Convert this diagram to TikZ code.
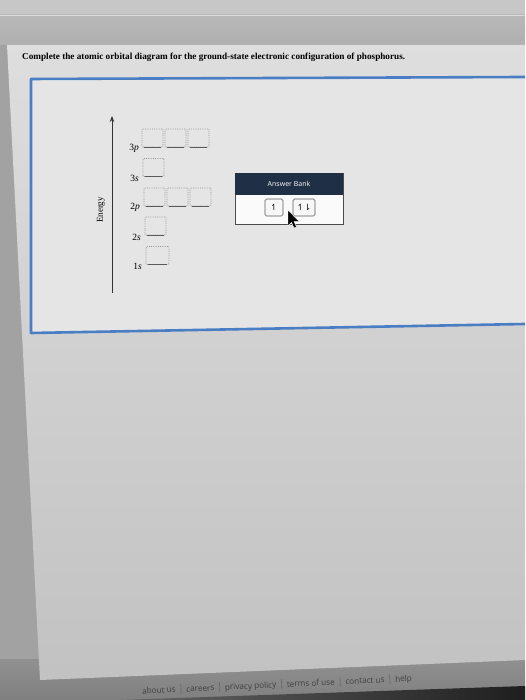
\documentclass[tikz,border=0pt]{standalone}
\usepackage{fontspec}
\setmainfont{Liberation Serif}
\newfontfamily\uisans{Open Sans}
\newfontfamily\arrowfont{DejaVu Sans}
\usetikzlibrary{arrows.meta}
\definecolor{bluebox}{HTML}{4A7EC4}
\definecolor{navy}{HTML}{1F2F45}
\definecolor{orbgray}{HTML}{9A9A9A}
\definecolor{underl}{HTML}{5A5A5A}
\definecolor{outside}{HTML}{A2A2A2}
\definecolor{footbg}{HTML}{909090}
\tikzset{
  orb/.style={draw=orbgray, densely dotted, line width=0.8pt, rounded corners=1pt, minimum width=21pt, minimum height=18pt, inner sep=0pt},
  sublabel/.style={anchor=east, font=\fontsize{9.5}{10}\selectfont, inner sep=0pt},
  tile/.style={draw=gray!70!black, line width=0.6pt, rounded corners=1.5pt, fill=white!94!gray, minimum height=17pt, inner sep=0pt, font=\arrowfont\fontsize{8.5}{9}\selectfont},
  footer/.style={font=\uisans\fontsize{8.2}{9}\selectfont, text=black!75, inner sep=0pt}
}
\newcommand{\footsep}{\hspace{5pt}\textcolor{black!60}{\rule[-1.5pt]{0.6pt}{10pt}}\hspace{5pt}}
\begin{document}
\begin{tikzpicture}[x=1pt,y=1pt]
\useasboundingbox (0,0) rectangle (525,700);
% photo background
\fill[outside] (0,0) rectangle (525,700);
\fill[black!22] (0,685) rectangle (525,700);
\shade[top color=black!28, bottom color=black!31] (0,655) rectangle (525,685);
\draw[black!14, line width=0.6pt] (0,685) -- (525,685);
% footer strip and dark bottom
\shade[top color=footbg, bottom color=black!50] (0,0) rectangle (525,40);
\shade[left color=black!60, right color=black!88] (120,0) -- (525,0) -- (525,14) -- cycle;
% page panel
\shade[top color=black!13, bottom color=black!24] (7,655) -- (525,655) -- (525,40) -- (40,20) -- cycle;
% title
\node[anchor=west, inner sep=0pt, font=\bfseries\fontsize{9.2}{10}\selectfont] (title) at (22,643)
  {Complete the atomic orbital diagram for the ground-state electronic configuration of phosphorus.};
% blue answer frame
\fill[black!10] (31,621) -- (525,623) -- (525,376) -- (31,367) -- cycle;
\draw[bluebox, line width=2.6pt, line join=round] (525,623) -- (31,621) -- (31,367) -- (525,376);
% energy axis
\coordinate (axbot) at (112,407);
\coordinate (axtop) at (112,584);
\draw[black!80, line width=0.8pt, -{Stealth[length=6pt,width=4.5pt]}] (axbot) -- (axtop);
\node[rotate=90, inner sep=0pt, font=\fontsize{9}{10}\selectfont] (energy) at (101,490) {Energy};
% sublevel labels
\node[sublabel] (l3p) at (139,552) {3\textit{p}};
\node[sublabel] (l3s) at (139,522) {3\textit{s}};
\node[sublabel] (l2p) at (140,493) {2\textit{p}};
\node[sublabel] (l2s) at (141,463) {2\textit{s}};
\node[sublabel] (l1s) at (142,434) {1\textit{s}};
% orbital boxes
\node[orb] (p3a) at (152.5,562) {};
\node[orb] (p3b) at (175.5,562) {};
\node[orb] (p3c) at (198.5,562) {};
\node[orb] (s3) at (153.5,532.5) {};
\node[orb] (p2a) at (154.5,503) {};
\node[orb] (p2b) at (177.5,503) {};
\node[orb] (p2c) at (200.5,503) {};
\node[orb] (s2) at (155.5,474) {};
\node[orb, minimum width=23pt] (s1) at (157.5,444.5) {};
\foreach \b in {p3a,p3b,p3c,s3,p2a,p2b,p2c,s2,s1}
  \draw[underl, line width=0.9pt] ([xshift=2pt]\b.south west) -- ([xshift=-2pt]\b.south east);
% answer bank
\node[draw=gray!60!black, line width=0.6pt, fill=white!96!gray, minimum width=108pt, minimum height=51pt, inner sep=0pt] (bank) at (289,501.5) {};
\fill[navy] (bank.north west) rectangle ([yshift=-22pt]bank.north east);
\node[text=white, inner sep=0pt, font=\uisans\fontsize{7}{8}\selectfont] (banktitle) at (289,516) {Answer Bank};
\node[tile, minimum width=18pt] (t1) at (274,492.5) {↿};
\node[tile, minimum width=22pt] (t2) at (304,492.5) {↿⇂};
% mouse pointer
\fill[black, draw=white, line width=0.4pt] (288,490) -- (288,474) -- (291.5,477.5) -- (294,472) -- (296.5,473) -- (294,478.5) -- (299,478.5) -- cycle;
% footer
\node[footer, rotate=2.7] (footer) at (277,15.5)
  {about us\footsep careers\footsep privacy policy\footsep terms of use\footsep contact us\footsep help};
\end{tikzpicture}
\end{document}
